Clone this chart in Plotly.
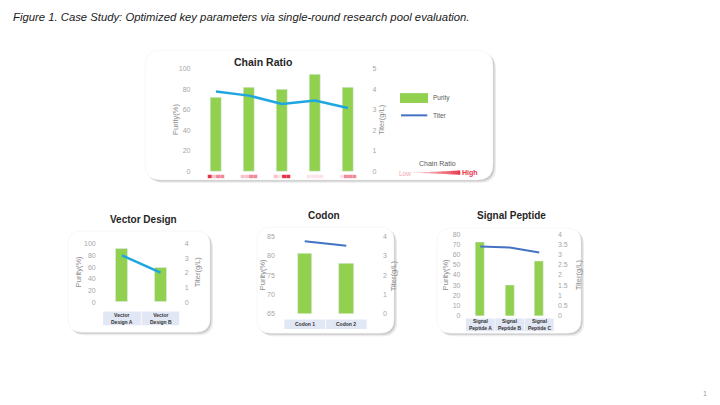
import plotly.graph_objects as go

W, H = 720, 405

# ---------------- data ----------------
chain_purity = [72, 81, 80, 94, 81]
chain_titer = [3.88, 3.68, 3.27, 3.44, 3.08]
# chain-ratio pattern shown under each bar (0 = lightest ... 3 = darkest)
chain_patterns = [[3, 1, 2, 2], [1, 1, 2, 2], [1, 0, 3, 3], [0, 0, 0, 0], [0, 2, 2, 2]]

vector_cats = ["Vector<br>Design A", "Vector<br>Design B"]
vector_purity = [92, 58]
vector_titer = [3.21, 2.02]

codon_cats = ["Codon 1", "Codon 2"]
codon_purity = [80.6, 78.0]
codon_titer = [3.76, 3.52]

signal_cats = ["Signal<br>Peptide A", "Signal<br>Peptide B", "Signal<br>Peptide C"]
signal_purity = [72, 30, 54]
signal_titer = [3.40, 3.35, 3.11]

# ---------------- style ----------------
GREEN = "#92d050"
CYAN = "#1ea6e0"
BLUE = "#4472c4"
TICK = "#a6a6a6"
ATITLE = "#8c8c8c"
FONT = "Liberation Sans"
pattern_colors = ["#fce3e7", "#f8c3cb", "#f0899a", "#e3344a"]


def px(x):
    return x / W


def py(y):
    return 1 - y / H


def rrect(x0, y0, x1, y1, r):
    pts = [
        ("M", [(x0 + r, y0)]), ("L", [(x1 - r, y0)]), ("Q", [(x1, y0), (x1, y0 + r)]),
        ("L", [(x1, y1 - r)]), ("Q", [(x1, y1), (x1 - r, y1)]), ("L", [(x0 + r, y1)]),
        ("Q", [(x0, y1), (x0, y1 - r)]), ("L", [(x0, y0 + r)]), ("Q", [(x0, y0), (x0 + r, y0)]),
    ]
    s = ""
    for cmd, ps in pts:
        s += cmd + " " + " ".join(f"{px(a):.5f},{py(b):.5f}" for a, b in ps) + " "
    return s + "Z"


fig = go.Figure()
shapes = []
annotations = []


def panel(x0, y0, x1, y1, r=14):
    shapes.append(dict(type="path", path=rrect(x0 + 3, y0 + 3, x1 + 3, y1 + 3, r), xref="paper", yref="paper",
                       fillcolor="#ececec", line=dict(width=0), layer="below"))
    shapes.append(dict(type="path", path=rrect(x0 + 1.5, y0 + 1.5, x1 + 1.5, y1 + 1.5, r), xref="paper", yref="paper",
                       fillcolor="#c9c9c9", line=dict(width=0), layer="below"))
    shapes.append(dict(type="path", path=rrect(x0, y0, x1, y1, r), xref="paper", yref="paper",
                       fillcolor="white", line=dict(color="#f2f2f2", width=0.6), layer="below"))


panel(145, 47, 493, 179, 16)
panel(68, 231, 210, 334, 14)
panel(257, 227, 394, 335, 14)
panel(437, 228, 581, 335, 14)


def yaxis_cfg(domain, rng, dtick, side="left", overlay=None, standoff=6, anchor=None):
    d = dict(domain=[py(domain[0]), py(domain[1])], range=rng, dtick=dtick, tick0=0,
             showgrid=False, zeroline=False, showline=False, ticks="",
             tickfont=dict(family=FONT, size=7, color=TICK), side=side,
             ticklabelstandoff=standoff, anchor=anchor, fixedrange=True)
    if overlay:
        d["overlaying"] = overlay
    return d


def xaxis_cfg(domain, n, anchor):
    return dict(domain=[px(domain[0]), px(domain[1])], range=[-0.5, n - 0.5], showgrid=False,
                zeroline=False, showline=False, showticklabels=False, ticks="", anchor=anchor, fixedrange=True)


layout = {}

# ----- top chart (Chain Ratio) -----
xi = list(range(len(chain_purity)))
fig.add_trace(go.Bar(x=xi, y=chain_purity, marker_color=GREEN, width=0.33, xaxis="x", yaxis="y",
                     showlegend=False, hoverinfo="skip"))
fig.add_trace(go.Scatter(x=xi, y=chain_titer, mode="lines", line=dict(color=CYAN, width=2.5),
                         xaxis="x", yaxis="y2", showlegend=False, hoverinfo="skip"))
offs = [-0.19, -0.063, 0.063, 0.19]
sq_x, sq_y, sq_c = [], [], []
for i, pat in enumerate(chain_patterns):
    for k, lv in enumerate(pat):
        sq_x.append(i + offs[k])
        sq_y.append(-5.6)
        sq_c.append(pattern_colors[lv])
fig.add_trace(go.Scatter(x=sq_x, y=sq_y, mode="markers", marker=dict(symbol="square", size=4, color=sq_c),
                         xaxis="x", yaxis="y", showlegend=False, hoverinfo="skip"))
layout["xaxis"] = xaxis_cfg((199.5, 364.5), 5, "y")
layout["yaxis"] = yaxis_cfg((177.3, 65.7), [-7, 100], 20, standoff=8, anchor="x")
layout["yaxis2"] = yaxis_cfg((177.3, 65.7), [-0.35, 5], 1, side="right", overlay="y", standoff=7, anchor="x")

# ----- bottom charts -----
specs = [
    (vector_cats, vector_purity, vector_titer, CYAN, (102.75, 179.75), (303.3, 244), [0, 100], 20, [0, 4], 1,
     "x2", "y3", "y4", (6, 4), (313, 327), 0.32, 2.5),
    (codon_cats, codon_purity, codon_titer, BLUE, (283.9, 367.1), (315, 236.7), [65, 85], 5, [0, 4], 1,
     "x3", "y5", "y6", (8, 15), (321, 330.7), 0.35, 2),
    (signal_cats, signal_purity, signal_titer, BLUE, (465.5, 554), (317.3, 234.3), [0, 80], 10, [0, 4], 0.5,
     "x4", "y7", "y8", (4, 3), (320, 333), 0.29, 2),
]
for (cats, pur, tit, lc, xdom, ydom, prng, pdt, trng, tdt, xa, ya, ya2, st, boxy, bw, lw) in specs:
    idx = list(range(len(cats)))
    fig.add_trace(go.Bar(x=idx, y=pur, marker_color=GREEN, width=bw, xaxis=xa, yaxis=ya,
                         showlegend=False, hoverinfo="skip"))
    fig.add_trace(go.Scatter(x=idx, y=tit, mode="lines", line=dict(color=lc, width=lw),
                             xaxis=xa, yaxis=ya2, showlegend=False, hoverinfo="skip"))
    xn = "xaxis" + xa[1:]
    yn = "yaxis" + ya[1:]
    yn2 = "yaxis" + ya2[1:]
    layout[xn] = xaxis_cfg(xdom, len(cats), ya)
    layout[yn] = yaxis_cfg(ydom, prng, pdt, standoff=st[0], anchor=xa)
    layout[yn2] = yaxis_cfg(ydom, trng, tdt, side="right", overlay=ya, standoff=st[1], anchor=xa)
    for i, c in enumerate(cats):
        shapes.append(dict(type="rect", xref=xa, yref="paper", x0=i - 0.49, x1=i + 0.49,
                           y0=py(boxy[1]), y1=py(boxy[0]), fillcolor="#e1e7f4", line=dict(width=0), layer="below"))
        annotations.append(dict(text=f"<b>{c}</b>", xref=xa, yref="paper", x=i, y=py((boxy[0] + boxy[1]) / 2),
                                showarrow=False, font=dict(family=FONT, size=5, color="#333333"),
                                xanchor="center", yanchor="middle"))


def txt(t, x, y, size, color, angle=0, xanchor="center", bold=False, italic=False):
    if bold:
        t = f"<b>{t}</b>"
    if italic:
        t = f"<i>{t}</i>"
    annotations.append(dict(text=t, x=px(x), y=py(y), xref="paper", yref="paper", showarrow=False,
                            textangle=angle, xanchor=xanchor, yanchor="middle",
                            font=dict(family=FONT, size=size, color=color)))


# titles
txt("Figure 1. Case Study: Optimized key parameters via single-round research pool evaluation.",
    11, 13, 11.3, "#1a1a1a", xanchor="left", italic=True)
txt("Chain Ratio", 262.5, 59.5, 10.5, "#262626", bold=True)
txt("Vector Design", 143, 219.5, 10, "#262626", bold=True)
txt("Codon", 323.5, 215, 10, "#262626", bold=True)
txt("Signal Peptide", 511, 215.5, 10, "#262626", bold=True)

# axis titles
for (xl, xr, yc) in [(176, 382, 118), (78, 197, 273), (262, 393, 276), (445, 578, 276)]:
    txt("Purity(%)", xl, yc, 7.5, ATITLE, angle=-90)
    txt("Titer(g/L)", xr, yc, 7.5, ATITLE, angle=-90)

# legend (top chart)
shapes.append(dict(type="rect", xref="paper", yref="paper", x0=px(400), x1=px(428), y0=py(100.7), y1=py(90.7),
                   fillcolor=GREEN, line=dict(width=0)))
txt("Purity", 431, 96, 6.5, "#595959", xanchor="left")
shapes.append(dict(type="line", xref="paper", yref="paper", x0=px(401), x1=px(427.3), y0=py(113.3), y1=py(113.3),
                   line=dict(color=BLUE, width=2)))
txt("Titer", 431, 113.5, 6.5, "#595959", xanchor="left")

# chain ratio gradient key
txt("Chain Ratio", 437.7, 162.7, 7, "#595959")
txt("Low", 405, 172, 6.5, "#f4a3ad")
txt("High", 469.5, 172.3, 7, "#e8344a", bold=True)
n_seg = 24
xa0, xa1, yc = 413.5, 460, 171.6


def lerp_col(c0, c1, t):
    a = [int(c0[i:i + 2], 16) for i in (1, 3, 5)]
    b = [int(c1[i:i + 2], 16) for i in (1, 3, 5)]
    return "#" + "".join(f"{round(a[k] + (b[k] - a[k]) * t):02x}" for k in range(3))


for s in range(n_seg):
    t0, t1 = s / n_seg, (s + 1) / n_seg
    xs0, xs1 = xa0 + (xa1 - xa0) * t0, xa0 + (xa1 - xa0) * t1 + 0.3
    h0, h1 = 0.35 + 1.9 * t0 ** 1.5, 0.35 + 1.9 * t1 ** 1.5
    path = (f"M {px(xs0):.5f},{py(yc - h0):.5f} L {px(xs1):.5f},{py(yc - h1):.5f} "
            f"L {px(xs1):.5f},{py(yc + h1):.5f} L {px(xs0):.5f},{py(yc + h0):.5f} Z")
    shapes.append(dict(type="path", path=path, xref="paper", yref="paper",
                       fillcolor=lerp_col("#fbe0e4", "#e8344a", (t0 + t1) / 2), line=dict(width=0)))

# page number
txt("1", 705, 396, 7, "#9a9a9a")

fig.update_layout(
    width=W, height=H, margin=dict(l=0, r=0, t=0, b=0, pad=0),
    paper_bgcolor="white", plot_bgcolor="rgba(0,0,0,0)",
    showlegend=False, shapes=shapes, annotations=annotations, bargap=0,
    **layout,
)
fig.write_html("out.html", config={"displayModeBar": False})
